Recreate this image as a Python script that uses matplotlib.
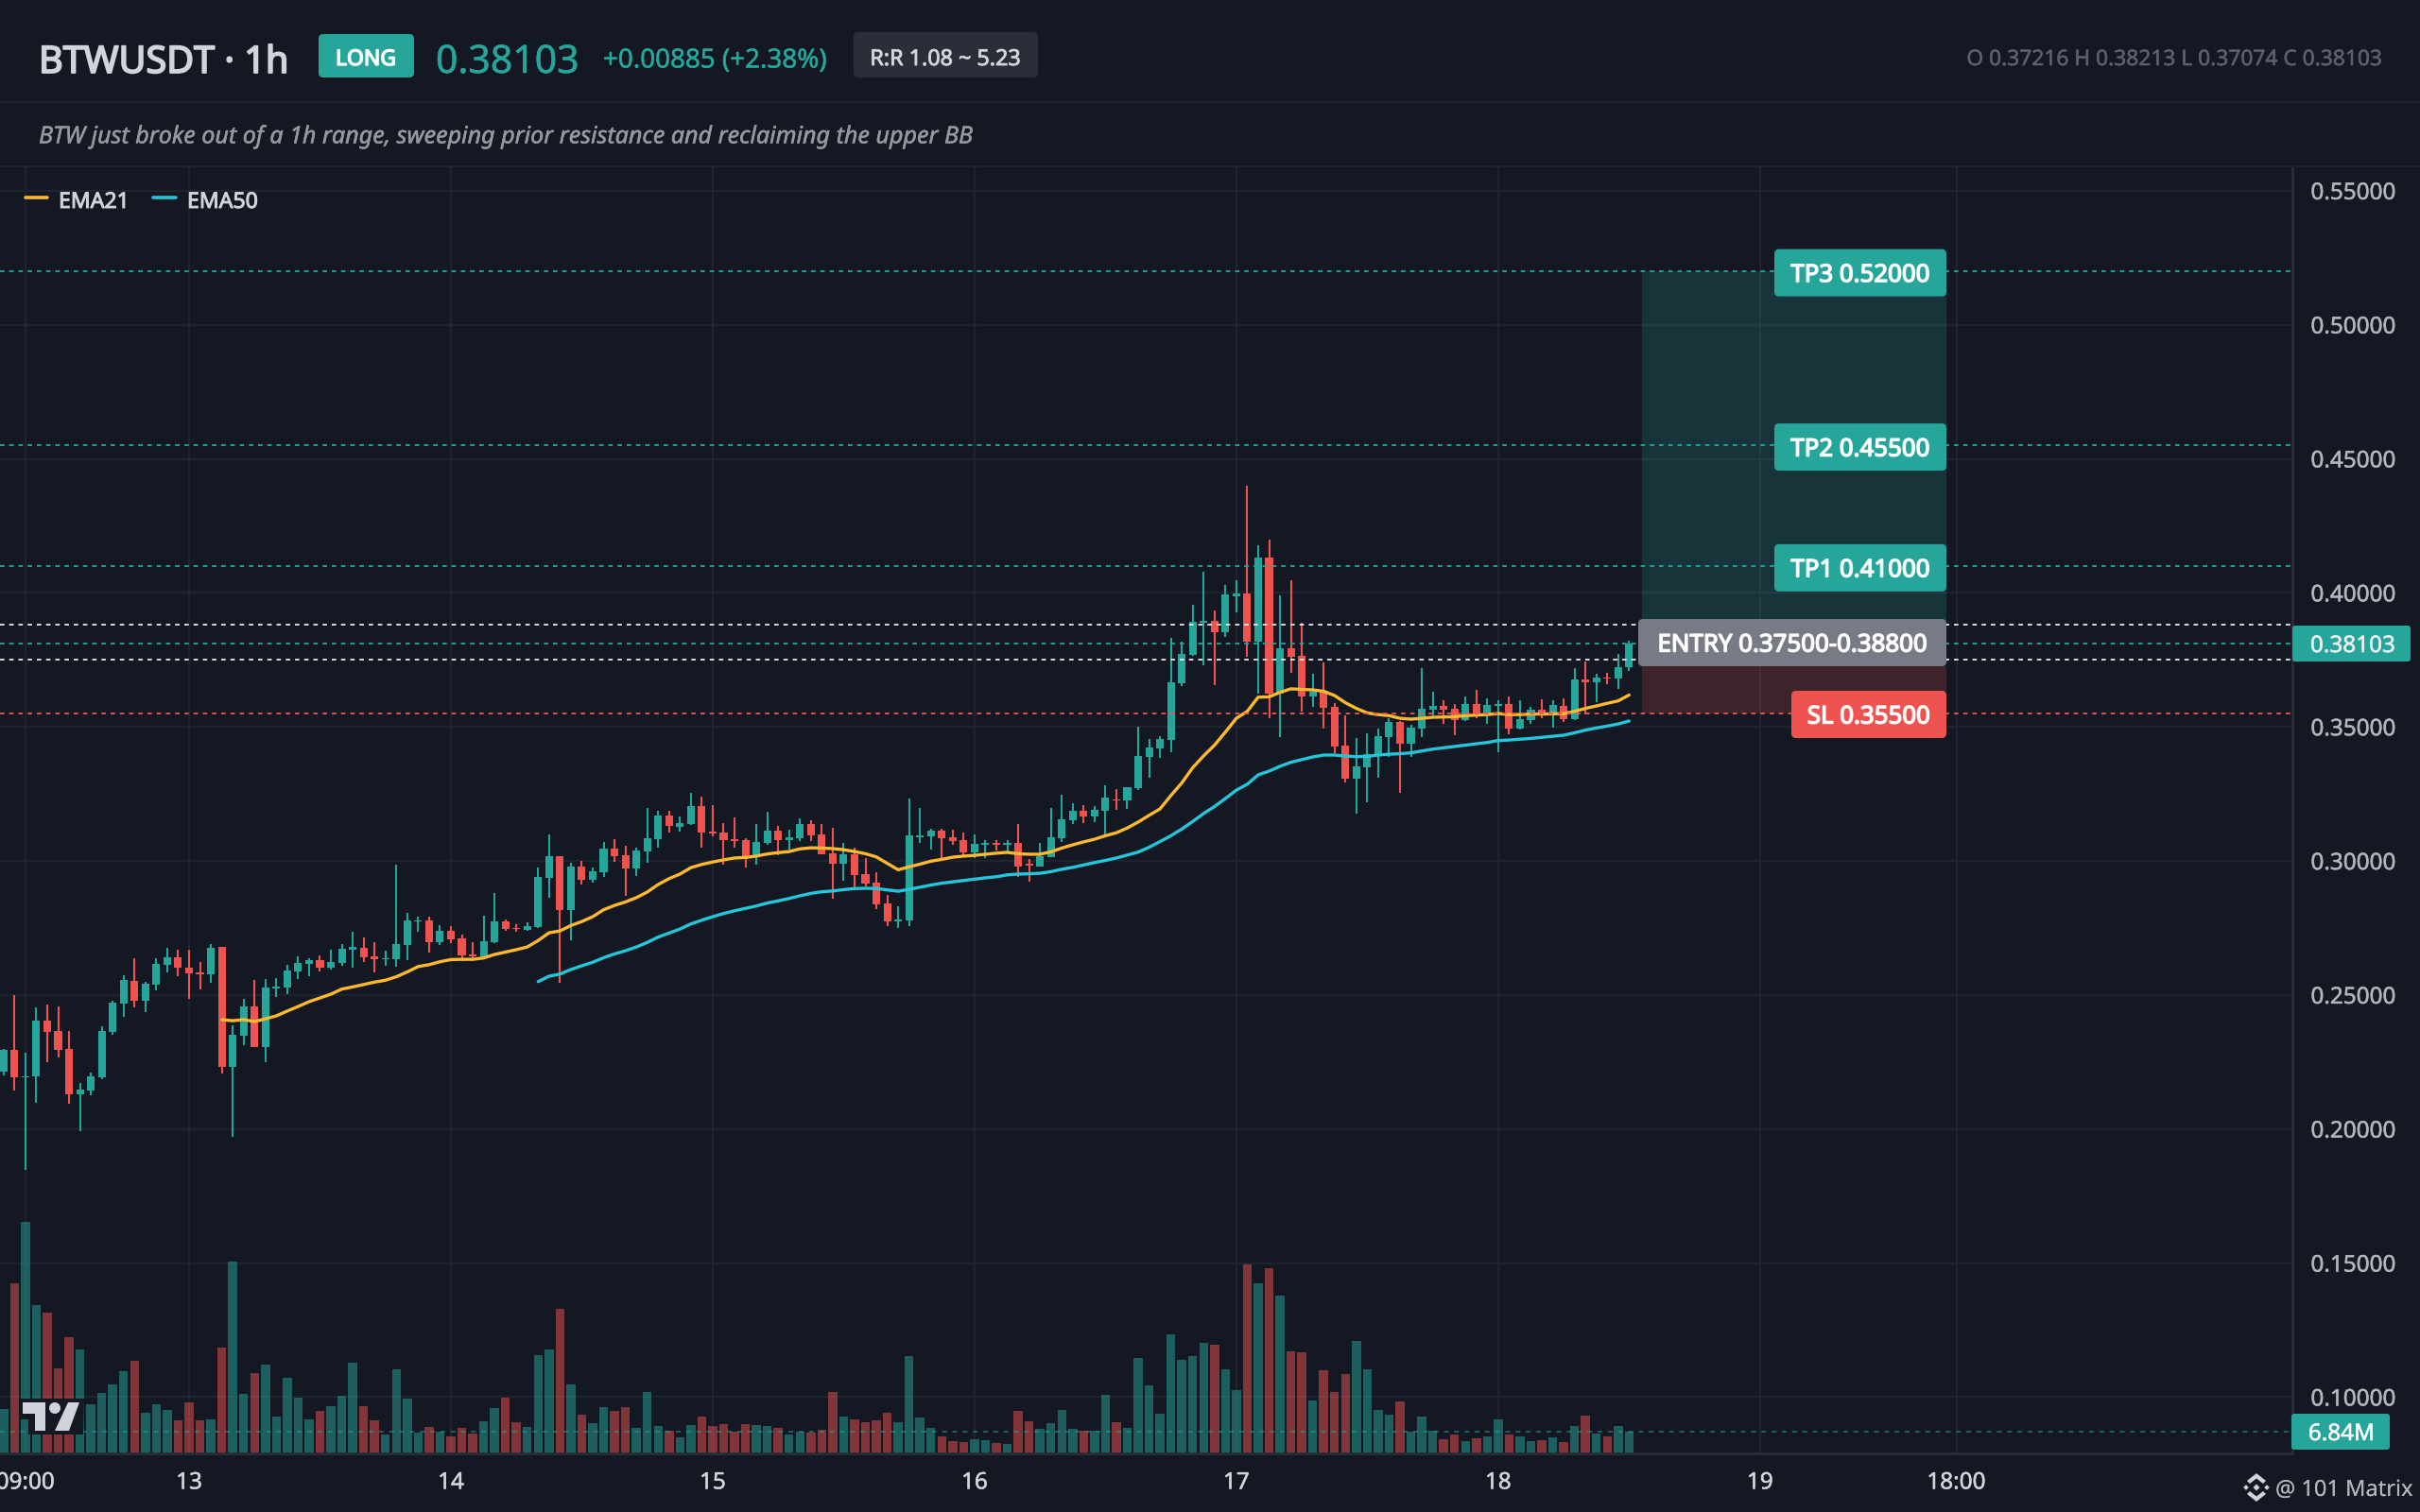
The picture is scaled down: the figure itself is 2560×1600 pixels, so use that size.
import matplotlib
matplotlib.use("Agg")
import matplotlib.pyplot as plt
from matplotlib.patches import FancyBboxPatch, Polygon, Circle
import matplotlib.patheffects as pe

plt.rcParams['font.family'] = ['Noto Sans', 'DejaVu Sans']

# ---------- data (hours counted from 13 Jul 00:00, one candle per hour) ----------
first_hour = -17
opens = [
 .2214,.2295,.2193,.2196,.2404,.2366,.2299,.2129,.2143,.2193,
 .2362,.2468,.2552,.2478,.2538,.2612,.2640,.2602,.2583,.2577,
 .2679,.2232,.2348,.2457,.2306,.2526,.2528,.2588,.2616,.2630,
 .2602,.2619,.2669,.2676,.2644,.2633,.2633,.2686,.2774,.2778,
 .2697,.2739,.2711,.2651,.2640,.2697,.2774,.2751,.2743,.2753,
 .2937,.3018,.2817,.2979,.2929,.2958,.3046,.3021,.2972,.3035,
 .3081,.3169,.3127,.3136,.3204,.3108,.3106,.3080,.3078,.3014,
 .3067,.3113,.3078,.3085,.3137,.3099,.3028,.2989,.3025,.2951,
 .2919,.2841,.2774,.2778,.3090,.3092,.3113,.3088,.3078,.3032,
 .3061,.3067,.3061,.3067,.2988,.2979,.3014,.3085,.3152,.3187,
 .3166,.3187,.3231,.3226,.3271,.3388,.3419,.3451,.3663,.3768,
 .3889,.3895,.3853,.3988,.3998,.3818,.4132,.3624,.3793,.3765,
 .3613,.3631,.3575,.3430,.3307,.3349,.3395,.3462,.3518,.3437,
 .3494,.3564,.3578,.3568,.3525,.3585,.3546,.3579,.3585,.3494,
 .3525,.3564,.3546,.3578,.3529,.3677,.3666,.3685,.3680,.37216]
closes = [
 .2295,.2193,.2197,.2404,.2362,.2295,.2129,.2147,.2196,.2366,
 .2471,.2556,.2478,.2542,.2616,.2640,.2602,.2581,.2578,.2676,
 .2232,.2351,.2457,.2306,.2528,.2531,.2591,.2619,.2630,.2602,
 .2623,.2672,.2679,.2640,.2633,.2638,.2690,.2778,.2779,.2697,
 .2739,.2707,.2647,.2644,.2700,.2774,.2746,.2746,.2757,.2940,
 .3018,.2817,.2979,.2929,.2961,.3046,.3018,.2972,.3039,.3085,
 .3169,.3130,.3141,.3204,.3106,.3101,.3078,.3075,.3014,.3071,
 .3113,.3078,.3088,.3137,.3095,.3025,.2989,.3025,.2947,.2915,
 .2838,.2774,.2781,.3095,.3095,.3113,.3085,.3074,.3032,.3063,
 .3067,.3061,.3067,.2979,.2982,.3018,.3088,.3155,.3187,.3166,
 .3190,.3236,.3226,.3275,.3391,.3423,.3455,.3666,.3772,.3892,
 .3895,.3853,.3994,.3998,.3818,.4132,.3624,.3793,.3761,.3613,
 .3631,.3571,.3427,.3307,.3353,.3398,.3465,.3518,.3437,.3497,
 .3568,.3578,.3564,.3525,.3585,.3546,.3582,.3585,.3494,.3529,
 .3564,.3550,.3582,.3529,.3677,.3667,.3684,.3679,.3723,.38103]
highs = [
 .2299,.2499,.2284,.2454,.2464,.2457,.2366,.2172,.2210,.2383,
 .2478,.2573,.2637,.2549,.2637,.2676,.2669,.2669,.2623,.2690,
 .2679,.2387,.2485,.2556,.2559,.2563,.2612,.2644,.2637,.2647,
 .2669,.2690,.2736,.2714,.2697,.2665,.2986,.2806,.2792,.2792,
 .2760,.2757,.2725,.2697,.2796,.2880,.2781,.2764,.2771,.2975,
 .3099,.3018,.2993,.3000,.2975,.3071,.3081,.3056,.3049,.3197,
 .3187,.3187,.3166,.3254,.3240,.3208,.3141,.3162,.3085,.3137,
 .3183,.3130,.3116,.3159,.3152,.3137,.3123,.3067,.3049,.3011,
 .2958,.2873,.2831,.3233,.3197,.3120,.3120,.3116,.3106,.3099,
 .3078,.3078,.3078,.3137,.3007,.3067,.3197,.3247,.3215,.3208,
 .3204,.3282,.3268,.3275,.3501,.3455,.3465,.3832,.3818,.3955,
 .4079,.3934,.4029,.4047,.4399,.4177,.4199,.3991,.4047,.3888,
 .3698,.3740,.3589,.3543,.3458,.3476,.3494,.3532,.3522,.3508,
 .3719,.3631,.3599,.3585,.3613,.3638,.3606,.3599,.3613,.3599,
 .3575,.3603,.3599,.3606,.3719,.3744,.3698,.3701,.3772,.38213]
lows = [
 .2200,.2143,.1847,.2098,.2249,.2267,.2094,.1992,.2126,.2186,
 .2351,.2418,.2454,.2436,.2517,.2584,.2570,.2485,.2521,.2545,
 .2207,.1971,.2313,.2306,.2249,.2492,.2503,.2559,.2570,.2588,
 .2595,.2609,.2602,.2623,.2584,.2609,.2605,.2630,.2736,.2658,
 .2686,.2693,.2626,.2637,.2633,.2693,.2739,.2736,.2739,.2750,
 .2863,.2545,.2704,.2912,.2919,.2940,.2996,.2870,.2944,.2993,
 .3049,.3106,.3109,.3134,.3049,.3092,.2986,.3049,.2975,.2986,
 .3060,.3021,.3042,.3074,.3074,.3025,.2859,.2926,.2901,.2905,
 .2820,.2757,.2750,.2757,.3067,.3042,.3011,.3060,.3018,.3011,
 .3011,.3039,.3032,.2940,.2922,.2979,.3014,.3071,.3137,.3141,
 .3145,.3098,.3190,.3194,.3264,.3310,.3384,.3405,.3652,.3765,
 .3730,.3656,.3835,.3927,.3761,.3624,.3532,.3462,.3701,.3557,
 .3575,.3494,.3402,.3293,.3176,.3219,.3310,.3388,.3254,.3388,
 .3462,.3543,.3511,.3469,.3522,.3532,.3511,.3405,.3472,.3490,
 .3511,.3532,.3497,.3518,.3525,.3546,.3592,.3659,.3642,.37074]
volumes_m = [
 14.3,55.7,75.9,48.5,46.0,27.7,38.0,33.9,15.9,19.6,
 22.4,26.8,30.2,13.1,15.9,14.0,10.6,16.5,10.6,10.9,
 34.5,62.8,19.3,26.1,28.9,11.8,24.6,18.0,10.9,13.7,
 15.2,18.7,29.6,15.2,10.6,5.9,27.4,17.7,6.5,8.4,
 6.84,5.3,8.1,6.2,10.3,14.6,18.0,10.0,8.4,32.0,
 33.9,47.3,22.4,12.4,9.6,14.9,13.7,14.9,8.1,19.9,
 8.7,7.2,5.0,9.0,11.8,8.7,9.3,6.84,9.3,9.0,
 8.7,8.1,5.9,6.8,6.5,7.5,19.9,11.8,10.9,10.0,
 10.6,13.1,10.0,31.7,11.5,8.1,5.3,3.7,3.4,4.4,
 4.0,3.1,2.8,13.7,10.3,7.8,9.6,14.0,7.8,7.2,
 7.2,19.0,10.0,8.1,31.1,22.1,12.8,38.9,30.5,31.7,
 36.1,35.5,27.4,20.5,61.9,55.7,60.7,51.6,33.3,33.0,
 17.1,27.1,19.9,25.8,36.7,27.4,14.0,12.4,16.8,6.84,
 11.8,7.2,4.4,5.9,3.7,4.7,5.3,10.9,5.9,5.3,
 3.7,4.0,5.0,3.4,8.7,12.1,6.2,5.3,8.7,6.84]
ema21 = [  # from hour 3
 .2408,.2404,.2408,.2401,.2411,.2422,.2440,.2457,.2475,.2489,
 .2503,.2522,.2530,.2539,.2548,.2555,.2568,.2586,.2606,.2613,
 .2624,.2632,.2633,.2633,.2638,.2651,.2660,.2669,.2679,.2703,
 .2732,.2739,.2759,.2774,.2792,.2818,.2834,.2847,.2863,.2884,
 .2912,.2934,.2951,.2975,.2987,.2996,.3004,.3011,.3013,.3018,
 .3026,.3031,.3035,.3045,.3049,.3048,.3046,.3042,.3035,.3027,
 .3015,.2991,.2967,.2978,.2988,.2999,.3006,.3014,.3018,.3021,
 .3025,.3029,.3032,.3027,.3025,.3025,.3034,.3048,.3060,.3071,
 .3081,.3094,.3105,.3123,.3145,.3170,.3194,.3244,.3291,.3348,
 .3392,.3432,.3481,.3532,.3558,.3611,.3612,.3629,.3642,.3640,
 .3638,.3633,.3617,.3590,.3569,.3552,.3546,.3542,.3532,.3529,
 .3532,.3536,.3537,.3538,.3542,.3544,.3546,.3550,.3546,.3546,
 .3548,.3548,.3549,.3549,.3558,.3569,.3578,.3588,.3597,.3619]
ema50 = [  # from hour 32
 .2550,.2570,.2578,.2595,.2609,.2622,.2639,.2653,.2665,.2679,
 .2696,.2716,.2731,.2746,.2765,.2779,.2792,.2804,.2814,.2823,
 .2832,.2843,.2851,.2860,.2870,.2879,.2885,.2888,.2893,.2897,
 .2898,.2897,.2892,.2887,.2894,.2902,.2910,.2917,.2922,.2927,
 .2932,.2937,.2941,.2948,.2951,.2952,.2954,.2960,.2969,.2976,
 .2985,.2994,.3002,.3011,.3022,.3033,.3051,.3072,.3094,.3119,
 .3147,.3177,.3203,.3233,.3264,.3286,.3321,.3335,.3353,.3368,
 .3378,.3388,.3395,.3395,.3391,.3389,.3390,.3395,.3398,.3400,
 .3403,.3410,.3417,.3422,.3427,.3432,.3437,.3442,.3449,.3451,
 .3454,.3457,.3461,.3465,.3469,.3478,.3488,.3496,.3503,.3511,
 .3522]
price_ticks = [0.55, 0.50, 0.45, 0.40, 0.35, 0.30, 0.25, 0.20, 0.15, 0.10]
time_ticks = [-15, 0, 24, 48, 72, 96, 120, 144, 162]
time_labels = ['09:00', '13', '14', '15', '16', '17', '18', '19', '18:00']
tp_levels = [0.52, 0.455, 0.41]
tp_names = ['TP3 0.52000', 'TP2 0.45500', 'TP1 0.41000']
entry_low, entry_high = 0.375, 0.388
stop_loss = 0.355
last_price = 0.38103
last_volume = 6.84

# ---------- palette ----------
BG = '#131823'; GRID = '#1f232e'; BORDER = '#2a2e39'
UP = '#26a69a'; DOWN = '#ef5350'; TXT = '#d1d4dc'; AXTXT = '#b2b5be'
GOLD = '#ffb92e'; CYAN = '#26c6da'

W, H = 2560, 1600
hours = list(range(first_hour, first_hour + len(opens)))
colors = [UP if c >= o else DOWN for o, c in zip(opens, closes)]

fig = plt.figure(figsize=(25.6, 16), dpi=100, facecolor=BG)
L, R, T, B = 0, 2425, 176, 1538
pos = [L / W, 1 - B / H, (R - L) / W, (B - T) / H]
XLIM = (-17.33, 192.8)
YLIM = (0.0790, 0.5591)

def heavy(color, w=0.35):
    return [pe.withStroke(linewidth=w, foreground=color)]

# base axes: grid, ticks, labels
ax = fig.add_axes(pos, facecolor=BG, zorder=0)
ax.set_xlim(*XLIM); ax.set_ylim(*YLIM)
ax.yaxis.tick_right()
ax.set_yticks(price_ticks); ax.set_yticklabels([f'{v:.5f}' for v in price_ticks])
ax.set_xticks(time_ticks); ax.set_xticklabels(time_labels)
ax.tick_params(axis='y', length=0, pad=14, labelsize=17.5, labelcolor=AXTXT)
ax.tick_params(axis='x', length=0, pad=14, labelsize=17.5, labelcolor=TXT)
for t in ax.get_yticklabels():
    t.set_path_effects(heavy(AXTXT))
for t in ax.get_xticklabels():
    t.set_path_effects(heavy(TXT))
ax.grid(True, color=GRID, lw=1.6)
ax.set_axisbelow(True)
for s in ('top', 'left'):
    ax.spines[s].set_visible(False)
for s in ('right', 'bottom'):
    ax.spines[s].set_color(BORDER); ax.spines[s].set_linewidth(2)

# volume layer
ax_v = fig.add_axes(pos, sharex=ax, zorder=1)
ax_v.patch.set_alpha(0)
ax_v.set_ylim(-0.3, 423.3)
ax_v.bar(hours, volumes_m, width=0.82, color=colors, alpha=0.5, linewidth=0)
ax_v.axhline(last_volume, color=UP, alpha=0.6, lw=1.2, ls=(0, (3, 3.5)))
ax_v.axis('off')

# price layer
ax_c = fig.add_axes(pos, sharex=ax, sharey=ax, zorder=2)
ax_c.patch.set_alpha(0)
zone_l = (133.2 - XLIM[0]) / (XLIM[1] - XLIM[0])
zone_r = (161.1 - XLIM[0]) / (XLIM[1] - XLIM[0])
ax_c.axhspan(entry_low, tp_levels[0], xmin=zone_l, xmax=zone_r, color=UP, alpha=0.2, lw=0)
ax_c.axhspan(stop_loss, entry_low - 0.0025, xmin=zone_l, xmax=zone_r, color=DOWN, alpha=0.2, lw=0)
ax_c.vlines(hours, lows, highs, colors=colors, lw=1.5)
ax_c.bar(hours, [abs(c - o) for o, c in zip(opens, closes)],
         bottom=[min(o, c) for o, c in zip(opens, closes)],
         width=0.70, color=colors, linewidth=0)
ax_c.plot(hours[-len(ema21):], ema21, color=GOLD, lw=2.4, solid_joinstyle='round', solid_capstyle='round')
ax_c.plot(hours[-len(ema50):], ema50, color=CYAN, lw=2.4, solid_joinstyle='round', solid_capstyle='round')
DASH = (0, (2.6, 2.8))
for v in tp_levels:
    ax_c.axhline(v, color=UP, lw=1.3, ls=DASH)
ax_c.axhline(last_price, color=UP, lw=1.3, ls=DASH)
ax_c.axhline(entry_high, color='#e6e8ee', lw=1.3, ls=DASH)
ax_c.axhline(entry_low, color='#e6e8ee', lw=1.3, ls=DASH)
ax_c.axhline(stop_loss, color=DOWN, lw=1.3, ls=DASH)
ax_c.axis('off')

# overlay in figure pixels: header, badges, logos
ov = fig.add_axes([0, 0, 1, 1], zorder=5)
ov.set_xlim(0, W); ov.set_ylim(H, 0); ov.axis('off'); ov.patch.set_alpha(0)

def py(v):
    return 911 + (0.30 - v) * 2838

def badge(x0, x1, y0, y1, color, r=5, **kw):
    ov.add_patch(FancyBboxPatch((x0 + r, y0 + r), x1 - x0 - 2 * r, y1 - y0 - 2 * r,
                                boxstyle=f'round,pad={r},rounding_size={r}',
                                fc=color, ec='none', **kw))

def label(x, y, s, size, color=TXT, ha='left', w=0.35, **kw):
    ov.text(x, y, s, fontsize=size, color=color, ha=ha, va='center_baseline',
            path_effects=heavy(color, w), **kw)

for y in (108, 176):
    ov.plot([0, W], [y, y], color=GRID, lw=1.6)

label(41, 62, 'BTWUSDT · 1h', 28.5, w=1.3)
badge(337, 438, 36, 82, UP)
label(387, 60, 'LONG', 16.5, color='white', ha='center', w=1.0)
label(461, 61, '0.38103', 29.5, color=UP)
label(638, 61, '+0.00885 (+2.38%)', 20, color=UP)
badge(903, 1098, 34, 82, '#2a2e39')
label(1000, 60, 'R:R 1.08 ~ 5.23', 16.8, ha='center', w=0.6)
label(2520, 60, 'O 0.37216 H 0.38213 L 0.37074 C 0.38103', 16.4, color='#5d606b', ha='right')
label(41, 142, 'BTW just broke out of a 1h range, sweeping prior resistance and reclaiming the upper BB',
      18.05, color='#9598a1', style='italic')

# legend
ov.plot([27, 50], [209, 209], color=GOLD, lw=2.6, solid_capstyle='round')
label(62, 211, 'EMA21', 16.6, w=0.7)
ov.plot([162, 186], [209, 209], color=CYAN, lw=2.6, solid_capstyle='round')
label(198, 211, 'EMA50', 16.6, w=0.7)

# trade level tags
for v, s in zip(tp_levels, tp_names):
    yc = py(v) + 2
    badge(1877, 2059, yc - 25, yc + 25, UP)
    label(1968, yc, s, 18.6, color='white', ha='center', w=1.0)
badge(1733, 2059, 655, 705, '#787b86')
label(1896, 680, 'ENTRY 0.37500-0.38800', 18.6, color='white', ha='center', w=1.0)
badge(1895, 2059, 731, 781, DOWN)
label(1977, 756, 'SL 0.35500', 18.6, color='white', ha='center', w=1.0)

# axis tags
badge(2425, 2550, py(last_price) - 19, py(last_price) + 19, UP, r=3)
label(2489, py(last_price), '0.38103', 17.5, color='#eef0f3', ha='center')
badge(2424, 2528, 1496, 1534, UP, r=3)
label(2477, 1515, '6.84M', 17.5, color='white', ha='center')

# TradingView mark
ov.add_patch(Polygon([(20, 1480), (89, 1480), (89, 1480), (88, 1518), (30, 1518), (30, 1502), (20, 1502)], fc=BG, ec='none'))
ov.add_patch(Polygon([(60, 1480), (89, 1480), (74, 1518), (30, 1518)], fc=BG, ec='none'))
ov.add_patch(Polygon([(24, 1484), (48, 1484), (48, 1514), (37, 1514), (37, 1496), (24, 1496)], fc=TXT, ec='none'))
ov.add_patch(Circle((58, 1490), 6, fc=TXT, ec='none'))
ov.add_patch(Polygon([(72, 1484), (84, 1484), (73, 1514), (58, 1514)], fc=TXT, ec='none'))

# footer signature
cx, cy = 2387, 1574
for dx, dy, s in ((0, 0, 3.5), (-11, 0, 2.8), (11, 0, 2.8)):
    ov.add_patch(Polygon([(cx + dx - s, cy + dy), (cx + dx, cy + dy - s), (cx + dx + s, cy + dy), (cx + dx, cy + dy + s)], fc=TXT, ec='none'))
for sgn in (-1, 1):
    ov.add_patch(Polygon([(cx - 10, cy + sgn * 7), (cx, cy + sgn * 15), (cx + 10, cy + sgn * 7),
                          (cx + 7, cy + sgn * 4), (cx, cy + sgn * 9.5), (cx - 7, cy + sgn * 4)], fc=TXT, ec='none'))
label(2407, 1574, '@ 101 Matrix', 17, color=AXTXT, w=0)

fig.savefig('out.png', dpi=100, facecolor=BG)
